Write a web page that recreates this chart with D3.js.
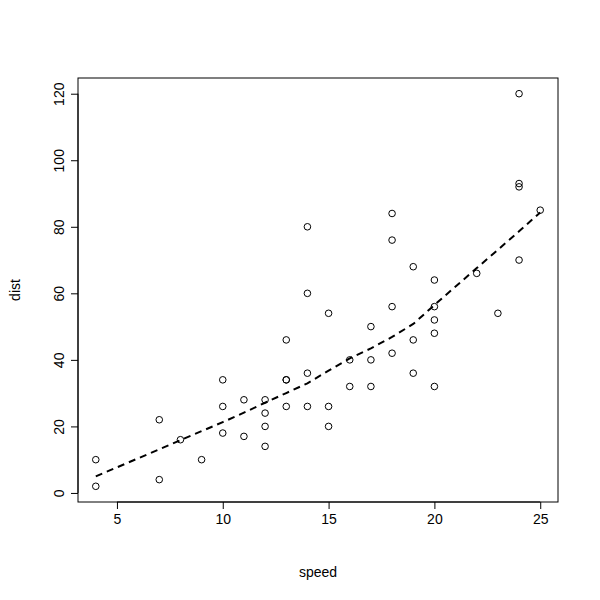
<!DOCTYPE html>
<html><head><meta charset="utf-8">
<script src="https://cdn.jsdelivr.net/npm/d3@7"></script>
<style>body{margin:0;background:#fff}text{font-family:"Liberation Sans",Arial,sans-serif;font-size:14px}</style>
</head><body>
<script>
var speed = [4,4,7,7,8,9,10,10,10,11,11,12,12,12,12,13,13,13,13,14,14,14,14,15,15,15,16,16,17,17,17,18,18,18,18,19,19,19,20,20,20,20,20,22,23,24,24,24,24,25];
var dist = [2,10,4,22,16,10,18,26,34,17,28,14,20,24,28,26,34,34,46,26,36,60,80,20,26,54,32,40,32,40,50,42,56,76,84,36,46,68,32,48,52,56,64,66,54,70,92,93,120,85];
// lowess fit at the distinct speeds
var fitX = [4,7,8,9,10,11,12,13,14,15,16,17,18,19,20,22,23,24,25];
var fitY = [4.97,13.12,15.86,18.58,21.28,24.13,27.12,30.03,32.96,36.76,40.44,43.46,46.89,50.79,56.49,67.59,73.08,78.64,84.33];
var xTicks = [5,10,15,20,25];
var yTicks = [0,20,40,60,80,100,120];

var L = 78, R = 558, T = 78, B = 502;
var x = d3.scaleLinear().domain([3.16, 25.84]).range([L, R]);
var y = d3.scaleLinear().domain([-2.72, 124.72]).range([B, T]);

var svg = d3.select("body").append("svg").attr("width", 600).attr("height", 600);

svg.append("rect").attr("x", L).attr("y", T).attr("width", R - L).attr("height", B - T)
  .attr("fill", "none").attr("stroke", "#000");

var xa = svg.append("g").attr("transform", "translate(0," + B + ")")
  .call(d3.axisBottom(x).tickValues(xTicks).tickSize(7).tickPadding(5));
xa.select(".domain").attr("d", "M" + x(5) + ",0H" + x(25));
xa.selectAll("text").style("font-size", "14px").style("font-family", "Liberation Sans, Arial");

var ya = svg.append("g").attr("transform", "translate(" + L + ",0)")
  .call(d3.axisLeft(y).tickValues(yTicks).tickSize(7).tickPadding(0));
ya.select(".domain").attr("d", "M0," + y(0) + "V" + y(120));
ya.selectAll(".tick text").style("font-size", "14px").style("font-family", "Liberation Sans, Arial")
  .attr("text-anchor", "middle").attr("dy", null).attr("x", 0).attr("y", 0)
  .attr("transform", "translate(-14,0) rotate(-90)");

svg.selectAll("circle.pt").data(speed).enter().append("circle")
  .attr("cx", function(d) { return x(d); })
  .attr("cy", function(d, i) { return y(dist[i]); })
  .attr("r", 3.3).attr("fill", "none").attr("stroke", "#000");

svg.append("path").datum(fitX)
  .attr("d", d3.line().x(function(d) { return x(d); }).y(function(d, i) { return y(fitY[i]); }))
  .attr("fill", "none").attr("stroke", "#000").attr("stroke-width", 2).attr("stroke-dasharray", "7,5");

svg.append("text").attr("x", (L + R) / 2).attr("y", 577).attr("text-anchor", "middle").text("speed");
svg.append("text").attr("transform", "translate(20," + (T + B) / 2 + ") rotate(-90)")
  .attr("text-anchor", "middle").text("dist");
</script>
</body></html>
